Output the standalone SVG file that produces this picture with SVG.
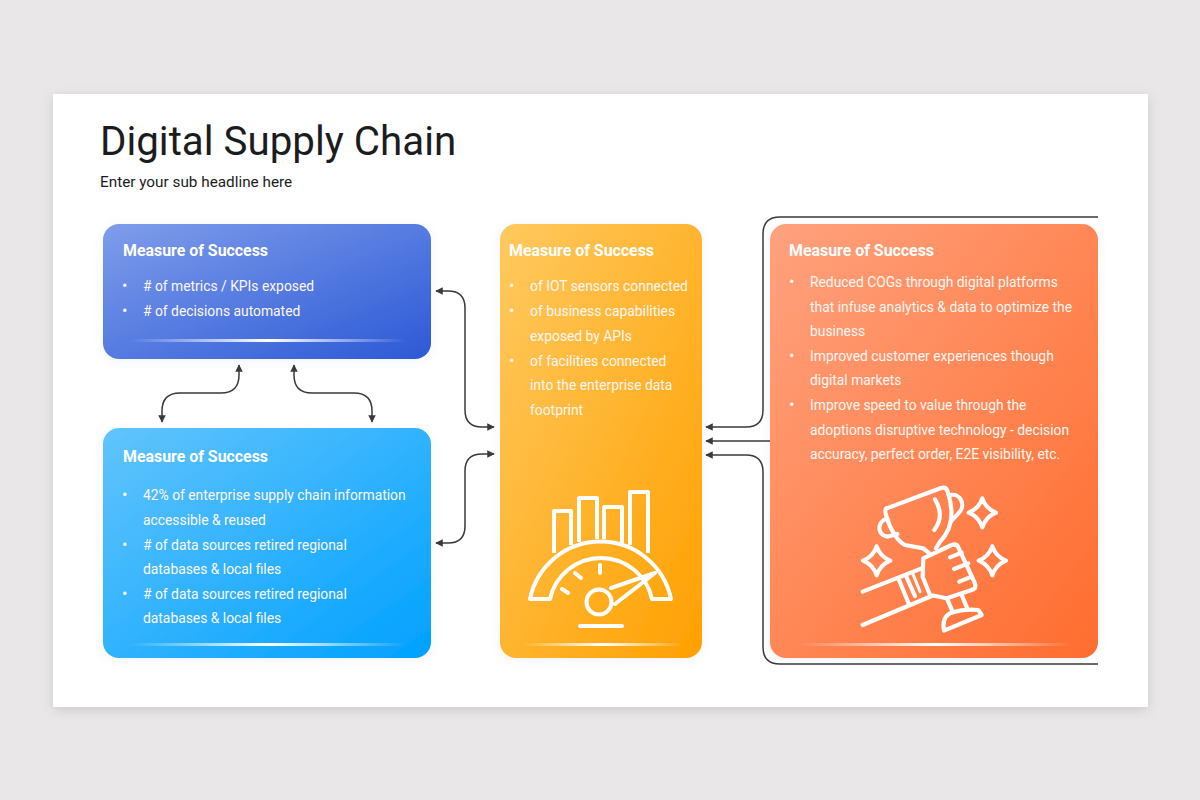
<svg xmlns="http://www.w3.org/2000/svg" width="1200" height="800" viewBox="0 0 1200 800">
<style>
text{font-family:Roboto,"Liberation Sans",sans-serif;fill:#fff}
.h{font-size:15.9px;font-weight:700}
.b{font-size:13.85px;fill:#fdf6f2}
.d{font-size:16px;fill:#fdf6f2}
.c{fill:none;stroke:#3a3a3c;stroke-width:1.5}
.ic{fill:none;stroke:#fff;stroke-width:4;stroke-linejoin:round;stroke-linecap:round}
.ic2{fill:none;stroke:#fff;stroke-width:12.5;stroke-linejoin:round;stroke-linecap:round}
</style>
<defs>
<linearGradient id="g1" x1="0" y1="0" x2="1" y2="1"><stop offset="0" stop-color="#7f9deb"/><stop offset="1" stop-color="#2c59d6"/></linearGradient>
<linearGradient id="g2" x1="0" y1="0" x2="1" y2="1"><stop offset="0" stop-color="#62c4fc"/><stop offset="1" stop-color="#00a1ff"/></linearGradient>
<linearGradient id="g3" x1="0" y1="0" x2="1" y2="1"><stop offset="0" stop-color="#ffc95f"/><stop offset="1" stop-color="#ffa000"/></linearGradient>
<linearGradient id="g4" x1="0" y1="0" x2="1" y2="1"><stop offset="0" stop-color="#ffa27e"/><stop offset="1" stop-color="#ff6c2e"/></linearGradient>
<linearGradient id="glow"><stop offset="0" stop-color="#fff" stop-opacity="0"/><stop offset=".5" stop-color="#fff"/><stop offset="1" stop-color="#fff" stop-opacity="0"/></linearGradient>
<filter id="ps" x="-5%" y="-5%" width="110%" height="110%"><feDropShadow dx="0" dy="3" stdDeviation="6" flood-color="#000" flood-opacity=".13"/></filter>
<filter id="cs" x="-10%" y="-10%" width="120%" height="120%"><feDropShadow dx="0" dy="2" stdDeviation="5" flood-color="#5570a0" flood-opacity=".09"/></filter>
<marker id="a" viewBox="0 0 10 10" refX="9" refY="5" markerWidth="7.500" markerHeight="7.500" markerUnits="userSpaceOnUse" orient="auto-start-reverse"><path d="M0 0L10 5L0 10z" fill="#3a3a3c"/></marker>
</defs>
<rect width="1200" height="800" fill="#e9e7e8"/>
<rect x="53" y="94" width="1095" height="613" fill="#fff" filter="url(#ps)"/>
<text x="100" y="155" style="font-size:40.3px;fill:#1c1c1e">Digital Supply Chain</text>
<text x="100" y="187" style="font-size:15.3px;fill:#1c1c1e">Enter your sub headline here</text>

<g id="connectors">
<path class="c" marker-start="url(#a)" marker-end="url(#a)" d="M162 422V411Q162 393 180 393H221Q239 393 239 375V365"/>
<path class="c" marker-start="url(#a)" marker-end="url(#a)" d="M294 365V375Q294 393 312 393H354Q372 393 372 411V422"/>
<path class="c" marker-start="url(#a)" marker-end="url(#a)" d="M436 291H448Q465 291 465 308V410Q465 427 482 427H494"/>
<path class="c" marker-start="url(#a)" marker-end="url(#a)" d="M436 543H448Q465 543 465 526V471Q465 454 482 454H494"/>
<path class="c" marker-end="url(#a)" d="M1098 217H780Q763 217 763 234V410Q763 427 746 427H706"/>
<path class="c" marker-end="url(#a)" d="M770 441H706"/>
<path class="c" marker-end="url(#a)" d="M1098 664H780Q763 664 763 647V472Q763 455 746 455H706"/>
</g>

<g id="card-metrics">
<rect x="103" y="224" width="328" height="135" rx="16" fill="url(#g1)" filter="url(#cs)"/>
<rect x="130" y="339" width="276" height="3" fill="url(#glow)"/>
<text class="h" x="123" y="256">Measure of Success</text>
<text class="d" x="122" y="291">•</text><text class="b" x="143" y="291"># of metrics / KPIs exposed</text>
<text class="d" x="122" y="316">•</text><text class="b" x="143" y="316"># of decisions automated</text>
</g>

<g id="card-data">
<rect x="103" y="428" width="328" height="230" rx="16" fill="url(#g2)" filter="url(#cs)"/>
<rect x="130" y="643" width="276" height="3" fill="url(#glow)"/>
<text class="h" x="123" y="462">Measure of Success</text>
<text class="d" x="122" y="500">•</text><text class="b" x="143" y="500">42% of enterprise supply chain information</text>
<text class="b" x="143" y="525">accessible &amp; reused</text>
<text class="d" x="122" y="550">•</text><text class="b" x="143" y="550"># of data sources retired regional</text>
<text class="b" x="143" y="574">databases &amp; local files</text>
<text class="d" x="122" y="599">•</text><text class="b" x="143" y="599"># of data sources retired regional</text>
<text class="b" x="143" y="623">databases &amp; local files</text>
</g>

<g id="card-iot">
<rect x="500" y="224" width="202" height="434" rx="16" fill="url(#g3)" filter="url(#cs)"/>
<rect x="523" y="643" width="160" height="3" fill="url(#glow)"/>
<text class="h" x="509" y="256">Measure of Success</text>
<text class="d" x="509" y="291">•</text><text class="b" x="530" y="291">of IOT sensors connected</text>
<text class="d" x="509" y="316">•</text><text class="b" x="530" y="316">of business capabilities</text>
<text class="b" x="530" y="341">exposed by APIs</text>
<text class="d" x="509" y="366">•</text><text class="b" x="530" y="366">of facilities connected</text>
<text class="b" x="530" y="390">into the enterprise data</text>
<text class="b" x="530" y="415">footprint</text>
<g class="ic">
<path d="M554 553V511H571V545M579 542V498H597V539M604 539V507H622V543M630 545V492H648V553" stroke-linecap="butt"/>
<path d="M530 599A72 72 0 0 1 671 599H652A52.200 52.200 0 0 0 550 599Z"/>
<circle cx="599" cy="602" r="12.500"/>
<path d="M611 588L655 573L615 604"/>
<path d="M600 565V573M575 573L581 578M562 589L568 593M580 626H622"/>
</g>
</g>

<g id="card-cogs">
<rect x="770" y="224" width="328" height="434" rx="16" fill="url(#g4)" filter="url(#cs)"/>
<rect x="797" y="643" width="276" height="3" fill="url(#glow)"/>
<text class="h" x="789" y="256">Measure of Success</text>
<text class="d" x="789" y="287">•</text><text class="b" x="810" y="287">Reduced COGs through digital platforms</text>
<text class="b" x="810" y="312">that infuse analytics &amp; data to optimize the</text>
<text class="b" x="810" y="336">business</text>
<text class="d" x="789" y="361">•</text><text class="b" x="810" y="361">Improved customer experiences though</text>
<text class="b" x="810" y="385">digital markets</text>
<text class="d" x="789" y="410">•</text><text class="b" x="810" y="410">Improve speed to value through the</text>
<text class="b" x="810" y="435">adoptions disruptive technology - decision</text>
<text class="b" x="810" y="459">accuracy, perfect order, E2E visibility, etc.</text>
<g class="ic2" transform="translate(840 470) scale(.3333)">
<path d="M140 115L303 54Q318 50 322 62C345 130 335 180 300 215L288 235"/>
<path d="M140 115Q132 120 140 140C150 180 175 215 195 225L250 235L268 250"/>
<path d="M330 75C365 68 378 110 355 130L332 155"/>
<path d="M142 145C110 155 110 195 142 200L172 192"/>
<path d="M285 88C305 120 305 150 283 180"/>
<path d="M250 265L335 225Q350 220 355 232L405 340Q410 355 395 360L320 385L270 375L248 320Z"/>
<path d="M330 262L365 248M342 297L385 280M358 335L395 320"/>
<path d="M68 365L245 295M68 465L275 378M175 325L208 405M198 318L225 378"/>
<path d="M218 310L240 365" stroke-width="9"/>
<path d="M322 388L338 425M365 375L382 415"/>
<path d="M312 482L425 435L415 420Q370 415 330 430Q305 445 312 482Z"/>
<path d="M427 85Q437 115 468 128Q437 141 427 172Q417 141 386 128Q417 115 427 85Z"/>
<path d="M110 229Q120 259 151 272Q120 285 110 316Q100 285 69 272Q100 259 110 229Z"/>
<path d="M457 229Q467 259 498 272Q467 285 457 316Q447 285 416 272Q447 259 457 229Z"/>
</g>
</g>
</svg>
